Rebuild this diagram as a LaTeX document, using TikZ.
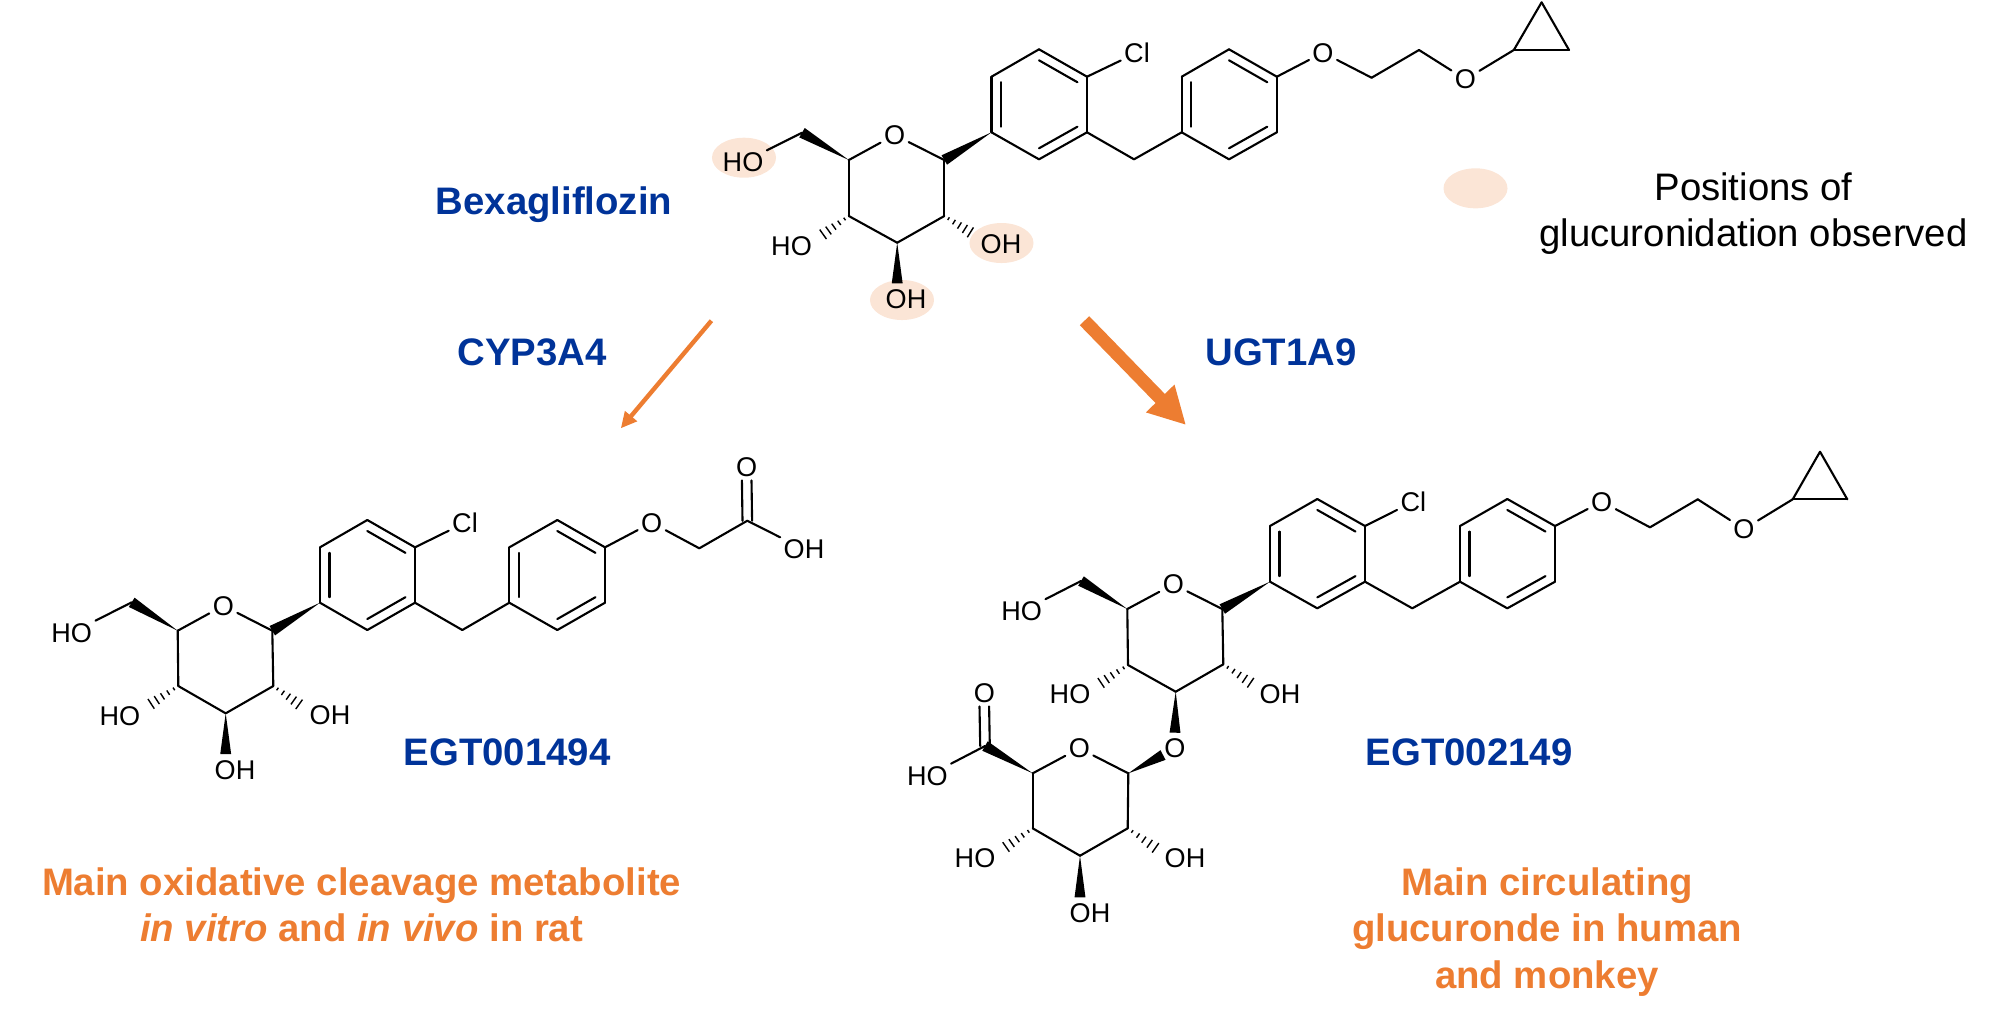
\documentclass[tikz,border=0pt]{standalone}
\usepackage{fontspec}
\setmainfont{Liberation Sans}
\usetikzlibrary{calc, arrows.meta, shapes.geometric}

\definecolor{enzymeblue}{HTML}{003399}
\definecolor{routeorange}{HTML}{ED7D31}
\definecolor{sitepeach}{HTML}{FBE5D6}

\tikzset{
    bond/.style={line width=0.6pt, line cap=round, black},
    atom/.style={inner sep=0.8pt, font=\fontsize{7.7}{8}\selectfont},
    site/.style={ellipse, fill=sitepeach, minimum width=0.64cm, minimum height=0.4cm, inner sep=0pt},
    bluename/.style={anchor=base, text=enzymeblue, inner sep=0pt, font=\fontsize{10.9}{13.2}\selectfont\bfseries},
    orangenote/.style={align=center, text=routeorange, inner sep=0pt, font=\fontsize{10.9}{13.2}\selectfont\bfseries},
}
\newcommand{\ringbond}[3]{\draw[bond] ($(#1)!.2!(#3)$) -- ($(#2)!.2!(#3)$);}
\newcommand{\wedgebond}[2]{\fill ($(#2)!1.55pt!90:(#1)$) -- (#1) -- ($(#2)!1.55pt!-90:(#1)$) -- cycle;}
\newcommand{\hashbond}[2]{\foreach \t/\w in {0.14/0.45, 0.32/0.75, 0.5/1.05, 0.68/1.35, 0.86/1.65}
    \draw[line width=0.4pt] ($(#1)!\t!(#2)!\w pt!90:(#2)$) -- ($(#1)!\t!(#2)!\w pt!-90:(#2)$);}
\newcommand{\carbonyl}[2]{\draw[bond] ($(#1)+(-4.8,0)$) -- ($(#2.south)+(-4.8,0)$);
    \draw[bond] ($(#1)+(4.8,0)$) -- ($(#2.south)+(4.8,0)$);}

\begin{document}
\begin{tikzpicture}[x=0.01cm, y=-0.01cm]
    \useasboundingbox (0,0) rectangle (2000,1020);

    % peach marks go under the labels
    \node[site] (sa) at (744,157.7) {};
    \node[site] (sb) at (1001.5,243) {};
    \node[site] (sc) at (902,300) {};
    \node[site] (skey) at (1475.5,188.3) {};

    % bexagliflozin
    \foreach \n/\x/\y in {tc5/848.8/160, tc1/944.3/160, tc2/944.3/216, tc3/897.2/242.7, tc4/848.8/216, tch/802/132.7,
        ta1/991.5/132.3, ta2/991.5/76.7, ta3/1039/49.3, ta4/1087/76.7, ta5/1087/132.3, ta6/1039/159.3, tac/1039/104.3,
        tm/1134/159.3, tb1/1181.7/132.3, tb2/1181.7/76.7, tb3/1229/49.3, tb4/1276.8/76.7, tb5/1276.8/132.3, tb6/1229/159.3, tbc/1229/104.3,
        te1/1371.6/77.7, te2/1419/50, tp1/1513.8/50, tp2/1541.6/2.3, tp3/1569/50,
        th4/818.9/237.3, th2/974.6/235, tw3/897.2/283.3}
        \coordinate (\n) at (\x,\y);
    \node[atom] (to) at (894.6,135) {O};
    \node[atom] (tho) at (743,162.3) {HO};
    \node[atom] (thob) at (791.5,245.7) {HO};
    \node[atom] (toha) at (1001,244.3) {OH};
    \node[atom] (tohb) at (906,299.3) {OH};
    \node[atom] (tcl) at (1137,52.7) {Cl};
    \node[atom] (toa) at (1323,52.7) {O};
    \node[atom] (tob) at (1465.4,79.3) {O};
    \foreach \p/\q in {tc5/to, to/tc1, tc1/tc2, tc2/tc3, tc3/tc4, tc4/tc5, tch/tho,
        ta1/ta2, ta2/ta3, ta3/ta4, ta4/ta5, ta5/ta6, ta6/ta1, ta4/tcl, ta5/tm, tm/tb1,
        tb1/tb2, tb2/tb3, tb3/tb4, tb4/tb5, tb5/tb6, tb6/tb1, tb4/toa, toa/te1, te1/te2, te2/tob, tob/tp1,
        tp1/tp2, tp2/tp3, tp3/tp1}
        \draw[bond] (\p) -- (\q);
    \ringbond{ta1}{ta2}{tac} \ringbond{ta3}{ta4}{tac} \ringbond{ta5}{ta6}{tac}
    \ringbond{tb1}{tb2}{tbc} \ringbond{tb3}{tb4}{tbc} \ringbond{tb5}{tb6}{tbc}
    \wedgebond{tc5}{tch} \wedgebond{ta1}{tc1} \wedgebond{tc3}{tw3}
    \hashbond{tc4}{th4} \hashbond{tc2}{th2}

    % EGT001494
    \foreach \n/\x/\y in {lc5/177.7/630.7, lc1/272.3/630.7, lc2/273.3/686, lc3/225.7/713.3, lc4/178.3/686, lch/131.7/602.3,
        la1/320/602.7, la2/320/547.3, la3/367.3/520, la4/415/547.3, la5/415/602.7, la6/367.3/630, lac/367.3/575,
        lm/462.3/630, lb1/509.3/602.7, lb2/509.3/547.3, lb3/557.3/520, lb4/605/547.3, lb5/605/602.7, lb6/557.3/630, lbc/557.3/575,
        le1/699.3/548.3, le2/747.3/520.7,
        lh4/146.7/706.7, lh2/303.3/707.3, lw3/225.7/754}
        \coordinate (\n) at (\x,\y);
    \node[atom] (lo) at (223.3,605.7) {O};
    \node[atom] (lho) at (71.7,632.7) {HO};
    \node[atom] (lhob) at (120,716) {HO};
    \node[atom] (loha) at (330,715.3) {OH};
    \node[atom] (lohb) at (235,770) {OH};
    \node[atom] (lcl) at (465,522.7) {Cl};
    \node[atom] (loa) at (651.7,522.7) {O};
    \node[atom] (lod) at (746.7,467.3) {O};
    \node[atom] (lohc) at (804,549.3) {OH};
    \foreach \p/\q in {lc5/lo, lo/lc1, lc1/lc2, lc2/lc3, lc3/lc4, lc4/lc5, lch/lho,
        la1/la2, la2/la3, la3/la4, la4/la5, la5/la6, la6/la1, la4/lcl, la5/lm, lm/lb1,
        lb1/lb2, lb2/lb3, lb3/lb4, lb4/lb5, lb5/lb6, lb6/lb1, lb4/loa, loa/le1, le1/le2, le2/lohc}
        \draw[bond] (\p) -- (\q);
    \carbonyl{le2}{lod}
    \ringbond{la1}{la2}{lac} \ringbond{la3}{la4}{lac} \ringbond{la5}{la6}{lac}
    \ringbond{lb1}{lb2}{lbc} \ringbond{lb3}{lb4}{lbc} \ringbond{lb5}{lb6}{lbc}
    \wedgebond{lc5}{lch} \wedgebond{la1}{lc1} \wedgebond{lc3}{lw3}
    \hashbond{lc4}{lh4} \hashbond{lc2}{lh2}

    % EGT002149, aglycone and first ring
    \foreach \n/\x/\y in {rc5/1127.3/609, rc1/1222.3/609, rc2/1223.3/664.3, rc3/1175.7/691.7, rc4/1128/665, rch/1081/581,
        ra1/1270/581.7, ra2/1270/526, ra3/1317.3/499, ra4/1365/526, ra5/1365/581.7, ra6/1317.3/608.3, rac/1317.3/553.7,
        rm/1412.3/608.3, rb1/1460/581.7, rb2/1460/526, rb3/1507.3/499, rb4/1555/526, rb5/1555/581.7, rb6/1507.3/608.3, rbc/1507.3/553.7,
        re1/1650/527.3, re2/1697.7/499.3, rp1/1792.7/499.3, rp2/1820/451.7, rp3/1847.3/499.3,
        rh4/1096.7/685.7, rh2/1255/685.7, rw3/1175/732.7}
        \coordinate (\n) at (\x,\y);
    \node[atom] (ro) at (1173.3,584.3) {O};
    \node[atom] (rho) at (1021.7,611.3) {HO};
    \node[atom] (rhob) at (1070,694) {HO};
    \node[atom] (roha) at (1280,694) {OH};
    \node[atom] (rcl) at (1413.3,501.7) {Cl};
    \node[atom] (roa) at (1601.7,501.7) {O};
    \node[atom] (rob) at (1744,529) {O};
    \node[atom] (rol) at (1175,748.3) {O};
    \foreach \p/\q in {rc5/ro, ro/rc1, rc1/rc2, rc2/rc3, rc3/rc4, rc4/rc5, rch/rho,
        ra1/ra2, ra2/ra3, ra3/ra4, ra4/ra5, ra5/ra6, ra6/ra1, ra4/rcl, ra5/rm, rm/rb1,
        rb1/rb2, rb2/rb3, rb3/rb4, rb4/rb5, rb5/rb6, rb6/rb1, rb4/roa, roa/re1, re1/re2, re2/rob, rob/rp1,
        rp1/rp2, rp2/rp3, rp3/rp1}
        \draw[bond] (\p) -- (\q);
    \ringbond{ra1}{ra2}{rac} \ringbond{ra3}{ra4}{rac} \ringbond{ra5}{ra6}{rac}
    \ringbond{rb1}{rb2}{rbc} \ringbond{rb3}{rb4}{rbc} \ringbond{rb5}{rb6}{rbc}
    \wedgebond{rc5}{rch} \wedgebond{ra1}{rc1} \wedgebond{rc3}{rw3}
    \hashbond{rc4}{rh4} \hashbond{rc2}{rh2}

    % EGT002149, glucuronic acid ring
    \foreach \n/\x/\y in {gc1/1128.3/773.3, gc5/1032.7/773.3, gc4/1032.7/828.3, gc3/1080/855.7, gc2/1127.7/828.3, gca/985/746,
        gh4/1001.7/850, gh2/1160/851, gw1/1163/755, gw3/1080/897.3}
        \coordinate (\n) at (\x,\y);
    \node[atom] (go) at (1079.3,748.3) {O};
    \node[atom] (god) at (984.3,693.3) {O};
    \node[atom] (ghoc) at (927.3,776) {HO};
    \node[atom] (ghob) at (975,858.3) {HO};
    \node[atom] (goha) at (1185,858.3) {OH};
    \node[atom] (gohb) at (1090,913.3) {OH};
    \foreach \p/\q in {gc5/go, go/gc1, gc1/gc2, gc2/gc3, gc3/gc4, gc4/gc5, gca/ghoc}
        \draw[bond] (\p) -- (\q);
    \carbonyl{gca}{god}
    \wedgebond{gc5}{gca} \wedgebond{gc1}{gw1} \wedgebond{gc3}{gw3}
    \hashbond{gc4}{gh4} \hashbond{gc2}{gh2}

    % reaction arrows
    \coordinate (oxstart) at (711.4,320.7);
    \coordinate (oxend) at (620.8,428.3);
    \coordinate (ugstart) at (1084.5,320.7);
    \coordinate (ugend) at (1186,425);
    \draw[routeorange, line width=1.25pt, -{Triangle[length=0.16cm, width=0.15cm]}] (oxstart) -- (oxend);
    \draw[routeorange, line width=3.7pt, -{Triangle[length=0.37cm, width=0.37cm]}] (ugstart) -- (ugend);

    % names and notes
    \node[bluename] (bexa) at (554,214) {Bexagliflozin};
    \node[bluename] (cyp) at (532,365.7) {CYP3A4};
    \node[bluename] (ugt) at (1281,365.7) {UGT1A9};
    \node[bluename] (egta) at (507,765) {EGT001494};
    \node[bluename] (egtb) at (1469,765) {EGT002149};
    \node[align=center, inner sep=0pt, font=\fontsize{10.9}{13.1}\selectfont] (key) at (1753.5,213.5) {Positions of\\glucuronidation observed};
    \node[orangenote] (notea) at (361.6,904.5) {Main oxidative cleavage metabolite\\\textit{in vitro} and \textit{in vivo} in rat};
    \node[orangenote] (noteb) at (1547,932) {Main circulating\\glucuronde in human\\and monkey};
\end{tikzpicture}
\end{document}
